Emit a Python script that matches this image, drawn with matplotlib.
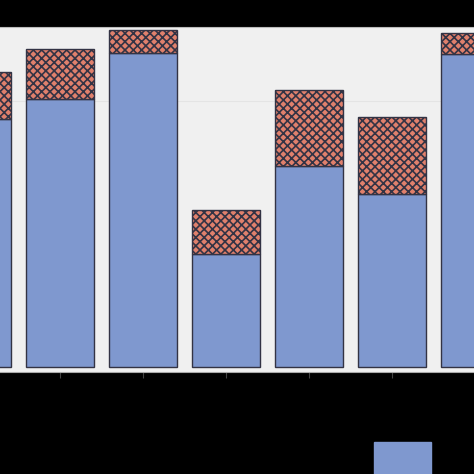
import numpy as np
import matplotlib.pyplot as plt
import matplotlib.patches as mpatches

plt.rcParams['hatch.linewidth'] = 1.2

# bar values (arbitrary units)
positions = [0, 1, 2, 3, 4, 5, 6]
base = [93.2, 100.8, 118.0, 42.5, 75.6, 65.0, 117.7]
total = [111.0, 119.5, 126.5, 59.0, 104.0, 94.0, 125.5]
extra = [t - b for t, b in zip(total, base)]

fig = plt.figure(figsize=(4.74, 4.74), dpi=100, facecolor='black')
ax = fig.add_axes([0, 1 - 372/474, 1, (372 - 27)/474])
ax.set_facecolor('#f0f0f0')

ax.bar(positions, base, width=0.82, color='#7f98cf', edgecolor='#333344', linewidth=1)
ax.bar(positions, extra, bottom=base, width=0.82, color='#e0806c',
       edgecolor='#333344', linewidth=1, hatch='xxxx')

ax.set_xlim(0.277, 5.988)
ax.set_ylim(-1.9, 127.8)
ax.set_xticks([1, 2, 3, 4, 5])
ax.set_xticklabels([])
ax.set_yticks([100])
ax.yaxis.grid(True, color='#e4e4e4')
ax.set_axisbelow(True)
ax.tick_params(axis='x', length=4, color='#444444')
ax.tick_params(axis='y', length=0, labelleft=False)
for s in ['left', 'right']:
    ax.spines[s].set_visible(False)
ax.spines['top'].set_color('#bbbbbb')
ax.spines['bottom'].set_color('#aaaaaa')

# legend patch fragment at the bottom
fig.patches.append(mpatches.Rectangle((374/474, 0), 57/474, 32/474,
                                      transform=fig.transFigure, color='#7f98cf'))

fig.savefig('out.png', dpi=100, facecolor='black')
